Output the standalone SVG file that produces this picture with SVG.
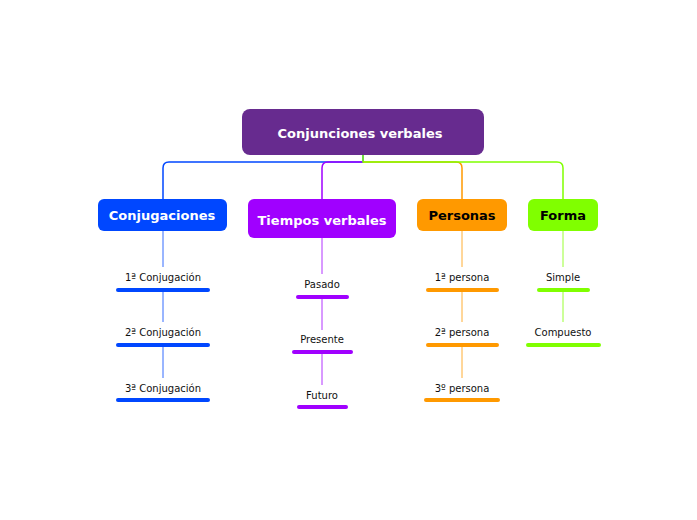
<svg xmlns="http://www.w3.org/2000/svg" width="697" height="520" viewBox="0 0 697 520">
<style>
.t{font-family:"DejaVu Sans",Verdana,sans-serif;font-weight:bold;font-size:13px;text-anchor:middle}
.l{font-family:"DejaVu Sans",Verdana,sans-serif;font-size:10px;text-anchor:middle;fill:#111}
.u{stroke-width:4;stroke-linecap:round;fill:none}
.c{fill:none;stroke-width:1.5}
.v{fill:none;stroke-width:0.8}
</style>
<rect width="697" height="520" fill="#fff"/>
<g id="connectors">
<path class="c" stroke="#0047ff" d="M363,155V162H169Q163,162 163,168V199"/>
<path class="c" stroke="#a000ff" d="M363,162H328Q322,162 322,168V199"/>
<path class="c" stroke="#ff9900" d="M363,162H456Q462,162 462,168V199"/>
<path class="c" stroke="#80ff00" d="M363,155V162H557Q563,162 563,168V199"/>
<path class="v" stroke="#0047ff" d="M163,231V267M163,292V322M163,347V378"/>
<path class="v" stroke="#a000ff" d="M322,238V274M322,299V330M322,354V385"/>
<path class="v" stroke="#ff9900" d="M462,231V267M462,292V322M462,347V378"/>
<path class="v" stroke="#80ff00" d="M563,231V267M563,292V322"/>
</g>
<g id="root"><rect x="242" y="109" width="242" height="46" rx="8" fill="#672b8f"/><text class="t" x="360" y="138" fill="#fff" font-size="16">Conjunciones verbales</text></g>
<g id="conjugaciones"><rect x="98" y="199" width="129" height="32" rx="6" fill="#0047ff"/><text class="t" x="162" y="220" fill="#fff">Conjugaciones</text></g>
<g id="tiempos"><rect x="248" y="199" width="148" height="39" rx="6" fill="#a000ff"/><text class="t" x="322" y="225" fill="#fff">Tiempos verbales</text></g>
<g id="personas"><rect x="417" y="199" width="90" height="32" rx="6" fill="#ff9900"/><text class="t" x="462" y="220" fill="#000">Personas</text></g>
<g id="forma"><rect x="528" y="199" width="70" height="32" rx="6" fill="#80ff00"/><text class="t" x="563" y="220" fill="#000">Forma</text></g>
<g id="c1"><text class="l" x="163" y="281">1ª Conjugación</text><path class="u" stroke="#0047ff" d="M118,290H208"/></g>
<g id="c2"><text class="l" x="163" y="336">2ª Conjugación</text><path class="u" stroke="#0047ff" d="M118,345H208"/></g>
<g id="c3"><text class="l" x="163" y="392">3ª Conjugación</text><path class="u" stroke="#0047ff" d="M118,400H208"/></g>
<g id="t1"><text class="l" x="322" y="288">Pasado</text><path class="u" stroke="#a000ff" d="M298,297H347"/></g>
<g id="t2"><text class="l" x="322" y="343">Presente</text><path class="u" stroke="#a000ff" d="M294,352H351"/></g>
<g id="t3"><text class="l" x="322" y="399">Futuro</text><path class="u" stroke="#a000ff" d="M299,407H346"/></g>
<g id="p1"><text class="l" x="462" y="281">1ª persona</text><path class="u" stroke="#ff9900" d="M428,290H497"/></g>
<g id="p2"><text class="l" x="462" y="336">2ª persona</text><path class="u" stroke="#ff9900" d="M428,345H497"/></g>
<g id="p3"><text class="l" x="462" y="392">3º  persona</text><path class="u" stroke="#ff9900" d="M426,400H498"/></g>
<g id="f1"><text class="l" x="563" y="281">Simple</text><path class="u" stroke="#80ff00" d="M539,290H588"/></g>
<g id="f2"><text class="l" x="563" y="336">Compuesto</text><path class="u" stroke="#80ff00" d="M528,345H599"/></g>
</svg>
